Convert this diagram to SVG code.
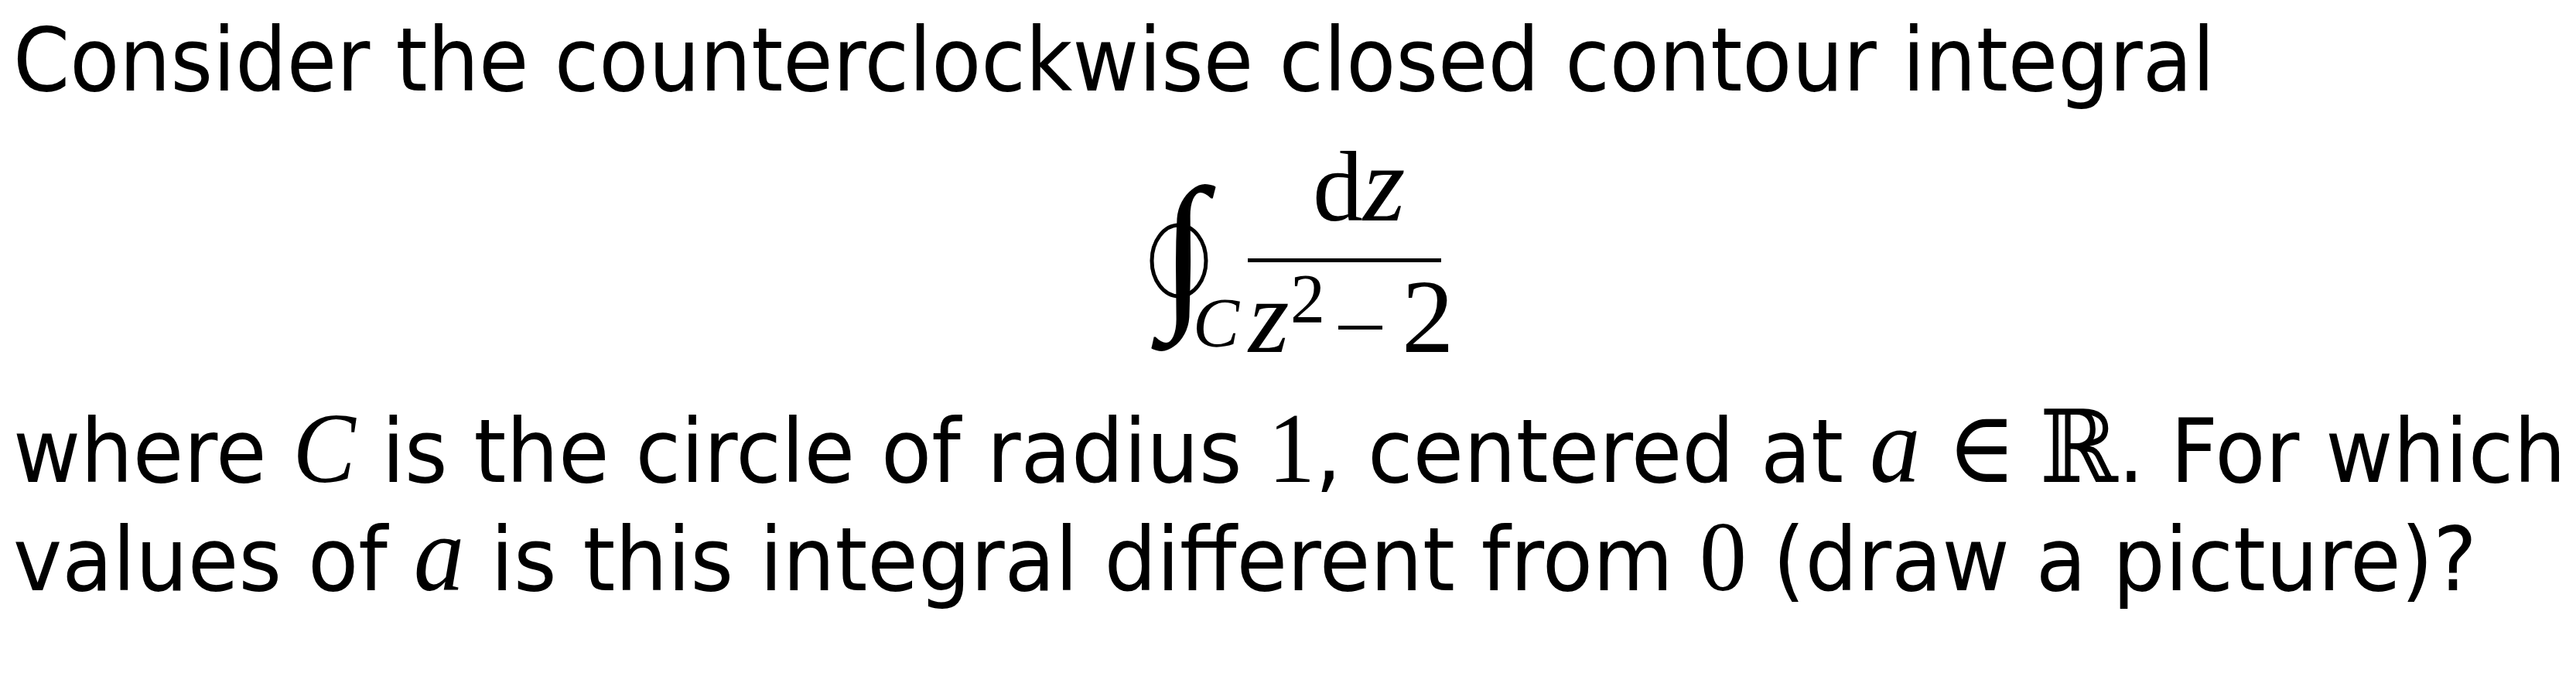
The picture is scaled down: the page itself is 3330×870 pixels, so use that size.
<svg xmlns="http://www.w3.org/2000/svg" width="3330" height="870" viewBox="0 0 3330 870">
<style>
.t{font-family:"DejaVu Sans","Liberation Sans",sans-serif;font-size:114px;fill:#000}
.m{font-family:"Liberation Serif","DejaVu Serif",serif;font-style:italic}
.r{font-family:"Liberation Serif","DejaVu Serif",serif}
</style>
<rect width="3330" height="870" fill="#fff"/>
<text class="t" x="17" y="117" textLength="2846" lengthAdjust="spacingAndGlyphs">Consider the counterclockwise closed contour integral</text>
<g id="integral">
<text x="1500" y="395" class="r" font-size="220">∫</text>
<ellipse cx="1524" cy="337" rx="35" ry="46" fill="none" stroke="#000" stroke-width="5"/>
<text x="1542" y="448" class="m" font-size="90">C</text>
<text x="1697" y="285" class="r" font-size="130">d<tspan class="m" font-size="140">z</tspan></text>
<rect x="1613" y="334" width="250" height="5" fill="#000"/>
<text x="1614" y="455" class="m" font-size="135">z</text>
<text x="1668" y="417" class="r" font-size="90">2</text>
<rect x="1730" y="421" width="57" height="5" fill="#000"/>
<text x="1812" y="455" class="r" font-size="135">2</text>
</g>
<text class="t" x="17" y="623" textLength="3300" lengthAdjust="spacingAndGlyphs">where <tspan class="m" font-size="130">C</tspan> is the circle of radius <tspan class="r" font-size="130">1</tspan>, centered at <tspan class="m" font-size="140">a</tspan> <tspan class="r" font-size="130">∈ ℝ</tspan>. For which</text>
<text class="t" x="17" y="763" textLength="3185" lengthAdjust="spacingAndGlyphs">values of <tspan class="m" font-size="140">a</tspan> is this integral different from <tspan class="r" font-size="130">0</tspan> (draw a picture)?</text>
</svg>
